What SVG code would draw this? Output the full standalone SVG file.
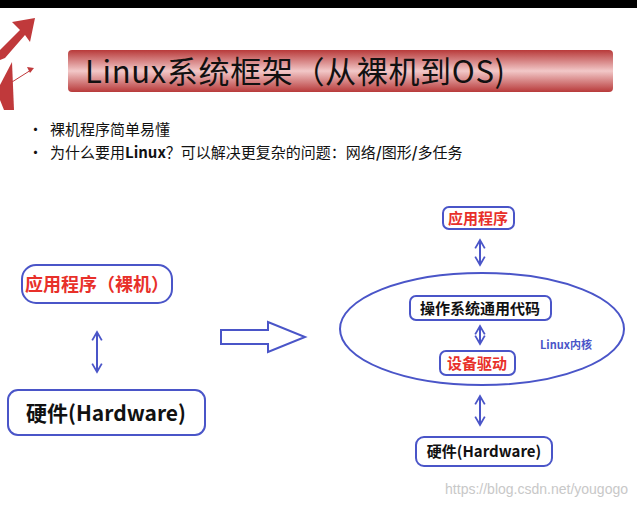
<svg xmlns="http://www.w3.org/2000/svg" width="637" height="507" viewBox="0 0 637 507">
<defs>
<linearGradient id="tg" x1="0" y1="0" x2="0" y2="1">
<stop offset="0" stop-color="#b83a3a"/><stop offset="0.5" stop-color="#f2c8c8"/><stop offset="1" stop-color="#b83a3a"/>
</linearGradient>
<marker id="ah" viewBox="0 0 10 10" refX="8" refY="5" markerWidth="6" markerHeight="6" orient="auto-start-reverse"><path d="M1,1 L8,5 L1,9" fill="none" stroke="#4a55c8" stroke-width="1.5"/></marker>
<style>
.box{fill:#fff;stroke:#4a55c8;stroke-width:2}
.t{font-family:"Noto Sans CJK SC","Liberation Sans",sans-serif;font-weight:bold;text-anchor:middle}
.c{stroke:#4a55c8;stroke-width:2;fill:none;marker-start:url(#ah);marker-end:url(#ah)}
</style>
</defs>
<rect width="637" height="507" fill="#fff"/>
<rect width="637" height="8" fill="#000"/>
<g id="logo" fill="#c0393b">
<path d="M0,50 L20,30 L12,22 L35,18 L30,42 L25,35 L5,58 L0,60Z"/>
<path d="M0,85 L12,62 L14,110 L4,110 L0,100Z"/>
<path d="M12,82 L31,70" stroke="#c0393b" stroke-width="1"/>
<path d="M27,67 L34,68 L30,73Z"/>
</g>
<g id="title">
<rect x="68" y="50" width="545" height="42" rx="4" fill="url(#tg)"/>
<text x="85" y="83" font-family="'Noto Sans CJK SC','Liberation Sans',sans-serif" font-size="31" fill="#111" textLength="420">Linux系统框架（从裸机到OS)</text>
</g>
<g id="bullets" font-family="'Noto Sans CJK SC','Liberation Sans',sans-serif" font-size="15" fill="#111">
<text x="28" y="135">•</text><text x="50" y="135">裸机程序简单易懂</text>
<text x="28" y="158">•</text><text x="50" y="158">为什么要用<tspan font-weight="bold">Linux</tspan>？可以解决更复杂的问题：网络<tspan font-weight="bold">/</tspan>图形<tspan font-weight="bold">/</tspan>多任务</text>
</g>
<g id="left-app"><rect class="box" x="22" y="265" width="150" height="38" rx="14"/><text class="t" x="97" y="291" font-size="18" fill="#e8302a">应用程序（裸机）</text></g>
<g id="left-hw"><rect class="box" x="8" y="390" width="197" height="45" rx="10"/><text class="t" x="106" y="421" font-size="21" fill="#111">硬件(Hardware)</text></g>
<g id="kernel"><ellipse cx="482" cy="329" rx="142" ry="56" fill="none" stroke="#4a55c8" stroke-width="2"/><text x="540" y="349" font-family="'Noto Sans CJK SC','Liberation Sans',sans-serif" font-size="11" font-weight="bold" fill="#4a55c8">Linux内核</text></g>
<g id="app"><rect class="box" x="443" y="207" width="71" height="22" rx="6"/><text class="t" x="478" y="224" font-size="15" fill="#e8302a">应用程序</text></g>
<g id="os"><rect class="box" x="410" y="296" width="141" height="24" rx="6"/><text class="t" x="480" y="314" font-size="15" fill="#111">操作系统通用代码</text></g>
<g id="drv"><rect class="box" x="440" y="351" width="75" height="24" rx="6"/><text class="t" x="477" y="369" font-size="15" fill="#e8302a">设备驱动</text></g>
<g id="hw"><rect class="box" x="416" y="437" width="136" height="29" rx="8"/><text class="t" x="484" y="457" font-size="15" fill="#111">硬件(Hardware)</text></g>
<g id="connectors">
<line class="c" x1="97" y1="332" x2="97" y2="372"/>
<line class="c" x1="480" y1="240" x2="480" y2="265"/>
<line class="c" x1="480" y1="326" x2="480" y2="344"/>
<line class="c" x1="480" y1="396" x2="480" y2="425"/>
<path d="M221,330 L268,330 L268,322 L305,337 L268,352 L268,344 L221,344Z" fill="#fff" stroke="#4a55c8" stroke-width="2"/>
</g>
<text x="628" y="494" text-anchor="end" font-family="'Liberation Sans',sans-serif" font-size="14" fill="#c8c8c8">https://blog.csdn.net/yougogo</text>
</svg>
